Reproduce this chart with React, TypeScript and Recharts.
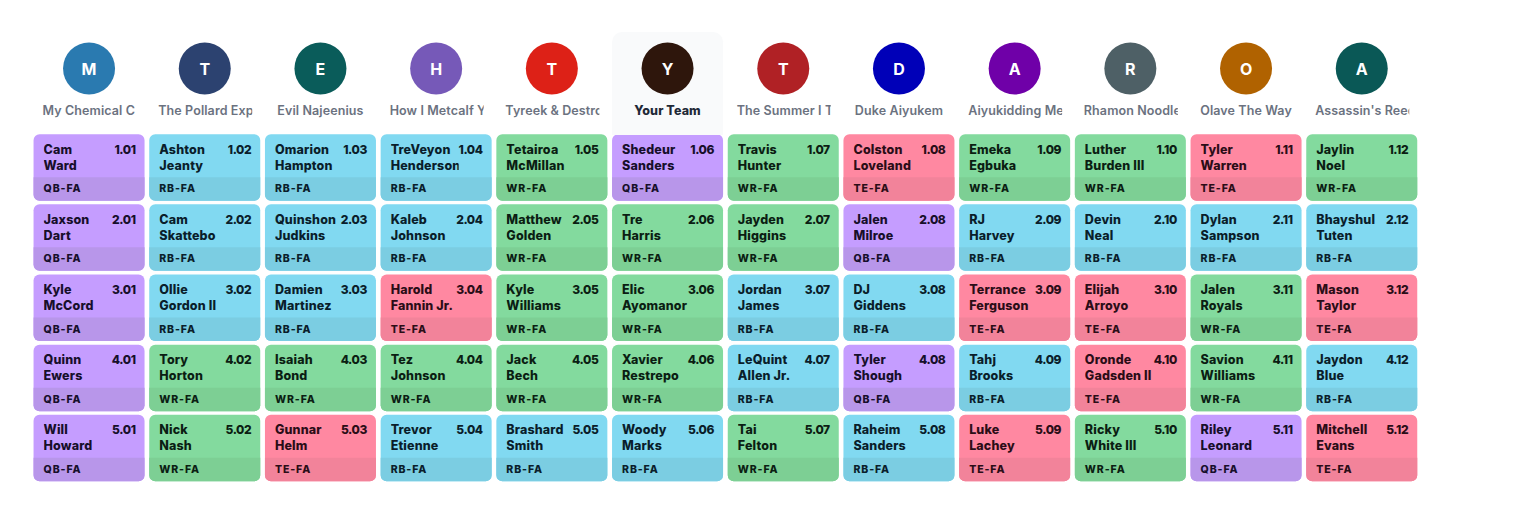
import React from 'react';
import { ScatterChart, Scatter, XAxis, YAxis, Rectangle } from 'recharts';

const teamNames = [
  'My Chemical C', 'The Pollard Exp', 'Evil Najeenius', 'How I Metcalf Y', 'Tyreek & Destro', 'Your Team',
  'The Summer I T', 'Duke Aiyukem', 'Aiyukidding Me', 'Rhamon Noodle', 'Olave The Way', "Assassin's Reed",
];
const avatarLetters = ['M', 'T', 'E', 'H', 'T', 'Y', 'T', 'D', 'A', 'R', 'O', 'A'];
const teamColors = [
  '#2a7ab0', '#2c4270', '#0a5c5a', '#7659b8', '#dd2117', '#2e160c',
  '#b02125', '#0000b8', '#6f00a8', '#4e6066', '#b06200', '#0a5856',
];
// names that fit their column are centred, the others run off its right edge
const shortNames = ['Evil Najeenius', 'Your Team', 'Duke Aiyukem', 'Olave The Way'];
const myTeam = 5;

const round1 = [
  ['Cam', 'Ward', 'QB'], ['Ashton', 'Jeanty', 'RB'], ['Omarion', 'Hampton', 'RB'], ['TreVeyon', 'Henderson', 'RB'],
  ['Tetairoa', 'McMillan', 'WR'], ['Shedeur', 'Sanders', 'QB'], ['Travis', 'Hunter', 'WR'], ['Colston', 'Loveland', 'TE'],
  ['Emeka', 'Egbuka', 'WR'], ['Luther', 'Burden III', 'WR'], ['Tyler', 'Warren', 'TE'], ['Jaylin', 'Noel', 'WR'],
];
const round2 = [
  ['Jaxson', 'Dart', 'QB'], ['Cam', 'Skattebo', 'RB'], ['Quinshon', 'Judkins', 'RB'], ['Kaleb', 'Johnson', 'RB'],
  ['Matthew', 'Golden', 'WR'], ['Tre', 'Harris', 'WR'], ['Jayden', 'Higgins', 'WR'], ['Jalen', 'Milroe', 'QB'],
  ['RJ', 'Harvey', 'RB'], ['Devin', 'Neal', 'RB'], ['Dylan', 'Sampson', 'RB'], ['Bhayshul', 'Tuten', 'RB'],
];
const round3 = [
  ['Kyle', 'McCord', 'QB'], ['Ollie', 'Gordon II', 'RB'], ['Damien', 'Martinez', 'RB'], ['Harold', 'Fannin Jr.', 'TE'],
  ['Kyle', 'Williams', 'WR'], ['Elic', 'Ayomanor', 'WR'], ['Jordan', 'James', 'RB'], ['DJ', 'Giddens', 'RB'],
  ['Terrance', 'Ferguson', 'TE'], ['Elijah', 'Arroyo', 'TE'], ['Jalen', 'Royals', 'WR'], ['Mason', 'Taylor', 'TE'],
];
const round4 = [
  ['Quinn', 'Ewers', 'QB'], ['Tory', 'Horton', 'WR'], ['Isaiah', 'Bond', 'WR'], ['Tez', 'Johnson', 'WR'],
  ['Jack', 'Bech', 'WR'], ['Xavier', 'Restrepo', 'WR'], ['LeQuint', 'Allen Jr.', 'RB'], ['Tyler', 'Shough', 'QB'],
  ['Tahj', 'Brooks', 'RB'], ['Oronde', 'Gadsden II', 'TE'], ['Savion', 'Williams', 'WR'], ['Jaydon', 'Blue', 'RB'],
];
const round5 = [
  ['Will', 'Howard', 'QB'], ['Nick', 'Nash', 'WR'], ['Gunnar', 'Helm', 'TE'], ['Trevor', 'Etienne', 'RB'],
  ['Brashard', 'Smith', 'RB'], ['Woody', 'Marks', 'RB'], ['Tai', 'Felton', 'WR'], ['Raheim', 'Sanders', 'RB'],
  ['Luke', 'Lachey', 'TE'], ['Ricky', 'White III', 'WR'], ['Riley', 'Leonard', 'QB'], ['Mitchell', 'Evans', 'TE'],
];
const rounds = [round1, round2, round3, round4, round5];

const posColors = {
  QB: { main: '#c59dff', foot: '#b896ea', ink: '#170f2b' },
  RB: { main: '#81d9f1', foot: '#7bcde2', ink: '#0a1e2b' },
  WR: { main: '#83da9e', foot: '#7dcf94', ink: '#0b1e13' },
  TE: { main: '#ff88a1', foot: '#f2839a', ink: '#2b0d17' },
};

const picks = rounds.flatMap((players, r) =>
  players.map((p, c) => ({
    col: c + 0.5,
    row: r + 0.5,
    first: p[0],
    last: p[1],
    pos: p[2],
    pick: `${r + 1}.${String(c + 1).padStart(2, '0')}`,
  })),
);

const FONT = 'Inter, "Noto Sans", sans-serif';
const CARD_W = 111;
const CARD_H = 66.5;
const FOOT_H = 23.5;

function PickCard(props: any) {
  const { cx, cy, payload } = props;
  const x = cx - CARD_W / 2;
  const y = cy - CARD_H / 2 - 0.2;
  const c = posColors[payload.pos];
  const clipId = `name-${payload.pick}`;
  return (
    <g fontFamily={FONT} fill={c.ink}>
      <clipPath id={clipId}>
        <rect x={x + 10} y={y} width={68} height={CARD_H} />
      </clipPath>
      <Rectangle x={x} y={y} width={CARD_W} height={CARD_H} radius={6} fill={c.main} />
      <Rectangle x={x} y={y + CARD_H - FOOT_H} width={CARD_W} height={FOOT_H} radius={[0, 0, 6, 6]} fill={c.foot} />
      <g clipPath={`url(#${clipId})`} fontSize={12.5} fontWeight={800} letterSpacing={0.15}>
        <text x={x + 10} y={y + 19.5}>{payload.first}</text>
        <text x={x + 10} y={y + 35.5}>{payload.last}</text>
      </g>
      <text x={x + CARD_W - 9} y={y + 19.5} textAnchor="end" fontSize={12} fontWeight={800} letterSpacing={-0.4}>{payload.pick}</text>
      <text x={x + 10} y={y + 58} fontSize={10.5} fontWeight={800} letterSpacing={0.9}>{`${payload.pos}-FA`}</text>
    </g>
  );
}

function TeamTick(props: any) {
  const { x, payload } = props;
  const i = payload.value - 0.5;
  const name = teamNames[i];
  const mine = i === myTeam;
  const centred = shortNames.includes(name);
  const clipId = `team-${i}`;
  return (
    <g fontFamily={FONT}>
      {mine && <Rectangle x={x - 55.5} y={32} width={111} height={103} radius={[10, 10, 0, 0]} fill="#f9fafb" />}
      <circle cx={x} cy={68.5} r={26} fill={teamColors[i]} />
      <text x={x} y={74.5} textAnchor="middle" fontSize={16} fontWeight={700} fill="#ffffff">{avatarLetters[i]}</text>
      <clipPath id={clipId}>
        <rect x={x - 47} y={95} width={94.5} height={24} />
      </clipPath>
      <text
        x={centred ? x : x - 46.5}
        y={114.5}
        textAnchor={centred ? 'middle' : 'start'}
        fontSize={12.5}
        fontWeight={mine ? 800 : 600}
        letterSpacing={0.1}
        fill={mine ? '#1f2937' : '#6b7280'}
        clipPath={`url(#${clipId})`}
      >
        {name}
      </text>
    </g>
  );
}

const teamTicks = teamNames.map((_, i) => i + 0.5);

export default function App() {
  return (
    <div style={{ position: 'absolute', left: 0, top: 0 }}>
      <ScatterChart width={1536} height={515} margin={{ top: 0, right: 116.4, bottom: 31.6, left: 31.2 }}>
        <XAxis
          xAxisId={0}
          type="number"
          dataKey="col"
          orientation="top"
          domain={[0, 12]}
          ticks={teamTicks}
          interval={0}
          height={132.5}
          axisLine={false}
          tickLine={false}
          tick={<TeamTick />}
        />
        <YAxis yAxisId={0} type="number" dataKey="row" domain={[0, 5]} reversed hide />
        <Scatter data={picks} shape={<PickCard />} isAnimationActive={false} />
      </ScatterChart>
    </div>
  );
}
